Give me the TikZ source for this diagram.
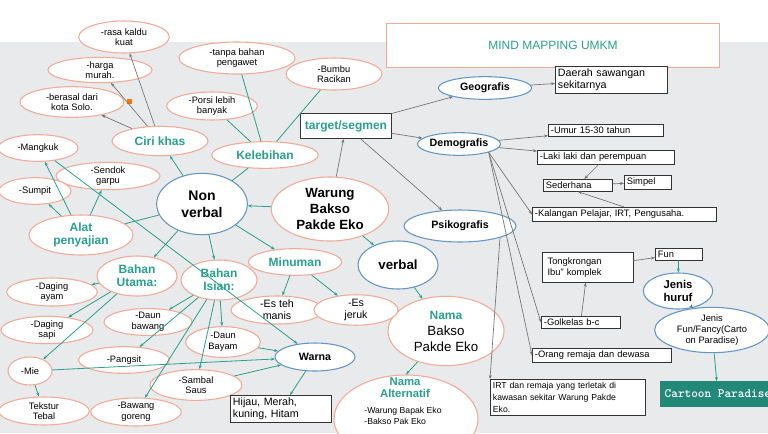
\documentclass[tikz,border=0pt]{standalone}
\usepackage{fontspec}
\setmainfont{Liberation Sans}
\usetikzlibrary{arrows.meta,shapes.geometric}
\definecolor{tl}{RGB}{40,160,140}
\definecolor{sal}{RGB}{240,170,150}
\definecolor{bl}{RGB}{100,150,195}
\definecolor{bg}{RGB}{232,234,235}
\tikzset{
 E/.style={ellipse,draw=sal,fill=white,line width=0.8pt,inner sep=0pt,minimum width=#1,font=\fontsize{7}{8}\selectfont,align=center},
 B/.style={ellipse,draw=bl,fill=white,line width=0.8pt,inner sep=0pt,minimum width=#1,font=\fontsize{8}{9}\selectfont\bfseries,align=center},
 T/.style={text=tl,font=\fontsize{9}{10}\selectfont\bfseries},
 R/.style={draw=black!80,fill=white,inner sep=2pt,font=\fontsize{7}{8}\selectfont,align=left,anchor=north west},
 ga/.style={draw=black!55,-{Stealth[length=3pt]},line width=0.5pt},
 ta/.style={draw=tl,-{Stealth[length=3pt]},line width=0.6pt},
 tl0/.style={draw=tl,line width=0.6pt},
}
\begin{document}
\begin{tikzpicture}[x=0.75pt,y=-0.75pt]
\useasboundingbox (0,0) rectangle (768,433);
\fill[white] (0,0) rectangle (768,433);
\fill[bg] (0,42) rectangle (768,433);
\node[draw=sal,fill=white,minimum width=250pt,minimum height=33pt,text=tl,font=\fontsize{9}{10}\selectfont] (title) at (553,45) {MIND MAPPING UMKM};
% left top
\node[E=68pt,minimum height=24pt] (rasa) at (124,37) {-rasa kaldu\\kuat};
\node[E=78pt,minimum height=19pt] (harga) at (100,70) {-harga\\murah.};
\node[E=78pt,minimum height=23pt] (asal) at (72,102) {-berasal dari\\kota Solo.};
\fill[orange!90!red] (127,99) rectangle (132,104);
\node[E=87pt,minimum height=24pt] (tanpa) at (237,58) {-tanpa bahan\\pengawet};
\node[E=72pt,minimum height=24pt] (bumbu) at (334,74) {-Bumbu\\Racikan};
\node[E=68pt,minimum height=21pt] (porsi) at (212,106) {-Porsi lebih\\banyak};
\node[E=72pt,minimum height=22pt,T] (ciri) at (160,141) {Ciri khas};
\node[E=80pt,minimum height=20pt,T] (keleb) at (265,155) {Kelebihan};
\node[draw=black!80,fill=white,minimum width=56pt,minimum height=19pt,T] (target) at (346,126) {target/segmen};
\node[E=60pt,minimum height=20pt] (mangkuk) at (38,148) {-Mangkuk};
\node[E=78pt,minimum height=20pt] (sendok) at (108,176) {-Sendok\\garpu};
\node[E=54pt,minimum height=20pt] (sumpit) at (35,191) {-Sumpit};
\node[B=68pt,minimum height=46pt,font=\fontsize{10.5}{13}\selectfont\bfseries] (nv) at (202,204) {Non\\verbal};
\node[E=88pt,minimum height=48pt,font=\fontsize{10}{12}\selectfont\bfseries] (warung) at (330,209) {Warung\\Bakso\\Pakde Eko};
\node[E=78pt,minimum height=30pt,T,align=center] (alat) at (81,235) {Alat\\penyajian};
\node[E=60pt,minimum height=30pt,T,align=center] (utama) at (137,276) {Bahan\\Utama:};
\node[E=57pt,minimum height=30pt,T,align=center] (isian) at (219,280) {Bahan\\Isian:};
\node[E=70pt,minimum height=20pt,T] (minum) at (295,262) {Minuman};
\node[B=60pt,minimum height=36pt,font=\fontsize{10}{12}\selectfont\bfseries] (verbal) at (398,265) {verbal};
\node[B=84pt,minimum height=24pt] (psiko) at (460,226) {Psikografis};
\node[E=87pt,minimum height=52pt,font=\fontsize{10}{12}\selectfont] (nama) at (446,331) {\textcolor{tl}{\bfseries\fontsize{9}{10}\selectfont Nama}\\Bakso\\Pakde Eko};
\node[E=68pt,minimum height=21pt] (ayam) at (52,292) {-Daging\\ayam};
\node[E=69pt,minimum height=20pt,font=\fontsize{8}{9}\selectfont] (esteh) at (277,310) {-Es teh\\manis};
\node[E=63pt,minimum height=21pt,font=\fontsize{8}{9}\selectfont] (jeruk) at (356,310) {-Es\\jeruk};
\node[E=66pt,minimum height=20pt] (dbawang) at (148,322) {-Daun\\bawang};
\node[E=69pt,minimum height=20pt] (sapi) at (47,330) {-Daging\\sapi};
\node[E=56pt,minimum height=23pt] (bayam) at (223,342) {-Daun\\Bayam};
\node[B=60pt,minimum height=21pt] (warna) at (315,357) {Warna};
\node[E=68pt,minimum height=20pt] (pangsit) at (124,360) {-Pangsit};
\node[E=33pt,minimum height=21pt] (mie) at (30,371) {-Mie};
\node[E=69pt,minimum height=23pt] (sambal) at (196,385) {-Sambal\\Saus};
\node[E=68pt,minimum height=21pt] (tekstur) at (44,411) {Tekstur\\Tebal};
\node[E=68pt,minimum height=21pt] (bgoreng) at (136,412) {-Bawang\\goreng};
\node[R,text width=72pt,font=\fontsize{8}{9}\selectfont] (hijau) at (230,395) {Hijau, Merah,\\kuning, Hitam};
\begin{scope}
\clip (0,0) rectangle (768,433);
\node[E=108pt,minimum height=66pt] (alt) at (406,419) {};
\end{scope}
\node[T,align=center,font=\fontsize{8.5}{9}\selectfont\bfseries] (altt) at (405,388) {Nama\\Alternatif};
\node[font=\fontsize{6.5}{8}\selectfont,align=left] (altl) at (403,416) {-Warung Bapak Eko\\-Bakso Pak Eko};
% right side
\node[B=70pt,minimum height=17pt] (geo) at (485,88) {Geografis};
\node[R,text width=80pt,font=\fontsize{8}{9}\selectfont] (daerah) at (555,66) {Daerah sawangan\\sekitarnya};
\node[B=60pt,minimum height=17pt] (demo) at (459,144) {Demografis};
\node[R,text width=82pt] (umur) at (548,124) {-Umur 15-30 tahun};
\node[R,text width=99pt] (laki) at (537,150) {-Laki laki dan perempuan};
\node[R,text width=48pt] (sederh) at (543,179) {Sederhana};
\node[R,text width=31pt] (simpel) at (624,175) {Simpel};
\node[R,text width=134pt] (kalang) at (532,207) {-Kalangan Pelajar, IRT, Pengusaha.};
\node[R,text width=60pt,inner sep=4pt] (tong) at (542,252) {Tongkrongan\\Ibu'' komplek};
\node[R,text width=31pt] (fun) at (655,248) {Fun};
\node[B=52pt,minimum height=27pt,font=\fontsize{8.5}{10}\selectfont\bfseries] (jenis) at (678,291) {Jenis\\huruf};
\node[B=86pt,minimum height=34pt,font=\fontsize{7}{8}\selectfont] (jfun) at (712,330) {Jenis\\Fun/Fancy(Carto\\on Paradise)};
\node[R,text width=55pt] (gol) at (541,316) {-Golkelas b-c};
\node[R,text width=100pt] (orang) at (532,348) {-Orang remaja dan dewasa};
\node[R,text width=112pt,font=\fontsize{6.5}{9}\selectfont] (irt) at (490,379) {IRT dan remaja  yang terletak di\\kawasan sekitar Warung Pakde\\Eko.};
\node[fill=tl!85!black,text=white,minimum width=82pt,minimum height=19pt,anchor=north west,font=\fontsize{9.5}{10}\selectfont\ttfamily\bfseries] (cartoon) at (660,381) {Cartoon Paradise};
% edges gray
\draw[ga] (ciri) -- (rasa);
\draw[ga] (ciri) -- (harga);
\draw[ga] (ciri) -- (asal);
\draw[ga] (warung) -- (target);
\draw[ga] (target) -- (geo);
\draw[ga] (target) -- (demo);
\draw[ga] (target) -- (psiko);
\draw[ga] (geo) -- (daerah);
\draw[ga] (demo) -- (umur);
\draw[ga] (demo) -- (laki);
\draw[ga] (laki) -- (sederh);
\draw[ga] (sederh) -- (simpel);
\draw[ga] (kalang.north) -- (sederh.south);
\draw[ga] (demo.south east) -- (kalang.west);
\draw[ga] (demo.south east) -- (gol.west);
\draw[ga] (demo.south east) -- (orang.west);
\draw[ga] (psiko.south east) -- (irt.north west);
\draw[ga] (gol) -- (tong);
\draw[ga] (tong) -- (fun);
\draw[ga] (jenis) -- (jfun);
% teal
\draw[tl0] (keleb) -- (tanpa);
\draw[tl0] (keleb) -- (bumbu);
\draw[tl0] (keleb) -- (porsi);
\draw[ta] (nv) -- (ciri);
\draw[tl0] (nv) -- (keleb);
\draw[ta] (warung) -- (nv);
\draw[tl0] (nv) -- (alat);
\draw[ta] (alat) -- (mangkuk);
\draw[ta] (alat) -- (sendok);
\draw[ta] (alat) -- (sumpit);
\draw[ta] (mangkuk) -- (warna);
\draw[ta] (nv) -- (utama);
\draw[ta] (nv) -- (isian);
\draw[ta] (nv) -- (minum);
\draw[ta] (utama) -- (ayam);
\draw[ta] (utama) -- (sapi);
\draw[ta] (utama) -- (mie);
\draw[ta] (isian) -- (dbawang);
\draw[ta] (isian) -- (bayam);
\draw[ta] (isian) -- (pangsit);
\draw[ta] (isian) -- (sambal);
\draw[ta] (isian) -- (bgoreng);
\draw[ta] (mie) -- (tekstur);
\draw[ta] (mie) -- (warna);
\draw[ta] (bayam) -- (warna);
\draw[ta] (sambal) -- (warna);
\draw[ta] (warna) -- (hijau);
\draw[ta] (minum) -- (esteh);
\draw[ta] (minum) -- (jeruk);
\draw[ta] (warung) -- (verbal);
\draw[ta] (verbal) -- (nama);
\draw[ta] (nama) -- (alt.north);
\draw[ta] (fun) -- (jenis);
\draw[ta] (jfun) -- (cartoon);
\end{tikzpicture}
\end{document}
